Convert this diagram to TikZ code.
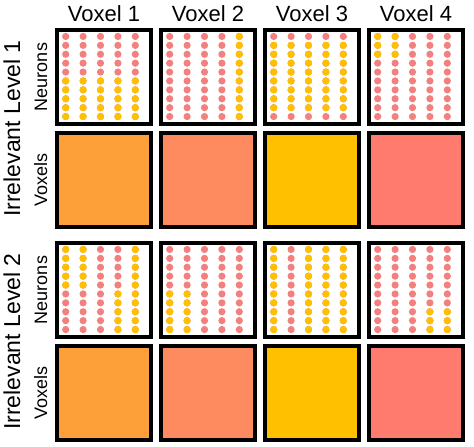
\documentclass[tikz,border=0pt]{standalone}
\usepackage{fontspec}
\setmainfont{Liberation Sans}
\usepackage{tikz}
\usetikzlibrary{positioning,calc}
\usepackage{xcolor}
\definecolor{dotpink}{RGB}{243,127,127}
\definecolor{dotyellow}{RGB}{255,192,0}
\definecolor{voxA}{RGB}{253,160,58}
\definecolor{voxB}{RGB}{254,138,96}
\definecolor{voxC}{RGB}{255,192,0}
\definecolor{voxD}{RGB}{255,123,110}

% 5 x 10 grid of neurons inside a box, pink first
\newcommand{\neurongrid}[1]{%
  \foreach \c in {1,...,5}
    \foreach \r in {1,...,10}
      \fill[dotpink] ($(#1.center)+(\c*17.4-55.7,\r*8.9-49.45)$) circle[radius=3.6pt];}
% overwrite some neurons in yellow: box, columns, rows
\newcommand{\yellowgrid}[3]{%
  \foreach \c in {#2}
    \foreach \r in {#3}
      \fill[dotyellow] ($(#1.center)+(\c*17.4-55.7,\r*8.9-49.45)$) circle[radius=3.6pt];}

\begin{document}
\begin{tikzpicture}[
  x=1pt,y=-1pt,
  cell/.style={draw,line width=4pt,minimum size=94pt,inner sep=0pt},
  nbox/.style={cell,fill=white},
  collabel/.style={font=\fontsize{22}{24}\selectfont,inner sep=0pt,anchor=south},
  rowlabel/.style={font=\fontsize{18}{20}\selectfont,inner sep=0pt,rotate=90,anchor=base},
  grouplabel/.style={font=\fontsize{23}{25}\selectfont,inner sep=0pt,rotate=90,anchor=base}
]
\useasboundingbox (0,0) rectangle (474,447);

% level 1
\node[nbox] (n11) at (104,77) {};
\node[nbox] (n12) at (208,77) {};
\node[nbox] (n13) at (312,77) {};
\node[nbox] (n14) at (416,77) {};
\node[cell,fill=voxA] (v11) at (104,180) {};
\node[cell,fill=voxB] (v12) at (208,180) {};
\node[cell,fill=voxC] (v13) at (312,180) {};
\node[cell,fill=voxD] (v14) at (416,180) {};

% level 2
\node[nbox] (n21) at (104,290) {};
\node[nbox] (n22) at (208,290) {};
\node[nbox] (n23) at (312,290) {};
\node[nbox] (n24) at (416,290) {};
\node[cell,fill=voxA] (v21) at (104,393) {};
\node[cell,fill=voxB] (v22) at (208,393) {};
\node[cell,fill=voxC] (v23) at (312,393) {};
\node[cell,fill=voxD] (v24) at (416,393) {};

% neurons
\neurongrid{n11} \yellowgrid{n11}{1,...,5}{6,...,10}
\neurongrid{n12} \yellowgrid{n12}{5}{1,...,10}
\neurongrid{n13} \yellowgrid{n13}{1,...,5}{2,...,9}
\neurongrid{n14} \yellowgrid{n14}{1,2}{1,2,3}
\neurongrid{n21} \yellowgrid{n21}{1,2}{1,...,5} \yellowgrid{n21}{4}{6,...,10} \yellowgrid{n21}{5}{1,...,10}
\neurongrid{n22} \yellowgrid{n22}{1,2}{6,...,10}
\neurongrid{n23} \yellowgrid{n23}{1,3,4,5}{1,...,10}
\neurongrid{n24} \yellowgrid{n24}{4,5}{8,9,10}

% labels
\node[collabel,above=6pt of n11] (t1) {Voxel 1};
\node[collabel,above=6pt of n12] (t2) {Voxel 2};
\node[collabel,above=6pt of n13] (t3) {Voxel 3};
\node[collabel,above=6pt of n14] (t4) {Voxel 4};

\node[rowlabel] (ln1) at ([xshift=-8pt]n11.west) {Neurons};
\node[rowlabel] (lv1) at ([xshift=-8pt]v11.west) {Voxels};
\node[rowlabel] (ln2) at ([xshift=-8pt]n21.west) {Neurons};
\node[rowlabel] (lv2) at ([xshift=-8pt]v21.west) {Voxels};
\node[grouplabel] (g1) at ($(n11.west)!0.5!(v11.west)+(-35,0)$) {Irrelevant Level 1};
\node[grouplabel] (g2) at ($(n21.west)!0.5!(v21.west)+(-35,0)$) {Irrelevant Level 2};
\end{tikzpicture}
\end{document}
